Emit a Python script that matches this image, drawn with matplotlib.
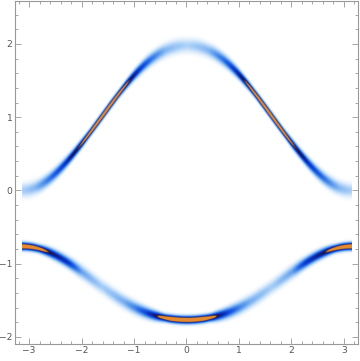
import numpy as np
import matplotlib
matplotlib.use("Agg")
import matplotlib.pyplot as plt
from matplotlib.colors import LinearSegmentedColormap

# ---- data (symmetric in k, so only k >= 0) ----
k_upper = [0.0, 0.41, 0.73, 1.05, 1.37, 1.685, 2.0, 2.32, 2.64, 3.1416]
e_upper = [1.98, 1.90, 1.77, 1.54, 1.24, 0.95, 0.65, 0.36, 0.15, 0.0]

k_lower = [0.0, 0.41, 0.73, 1.05, 1.37, 1.685, 2.0, 2.26, 2.51, 2.76, 3.1416]
e_lower = [-1.765, -1.745, -1.68, -1.58, -1.44, -1.28, -1.12, -0.99, -0.88, -0.805, -0.77]

# peak intensity along each band (colour-scale units, >1 saturates to orange)
kw_upper = [0.0, 0.4, 0.7, 0.92, 1.03, 1.12, 1.35, 1.57, 1.8, 2.03, 2.2, 2.32, 2.64, 2.9, 3.1416]
w_upper = [0.13, 0.22, 0.45, 0.68, 0.85, 0.97, 1.30, 1.45, 1.30, 0.97, 0.85, 0.68, 0.42, 0.22, 0.14]

kw_lower = [0.0, 0.3, 0.55, 0.6, 0.8, 1.0, 1.2, 1.62, 2.0, 2.26, 2.57, 2.67, 2.9, 3.1416]
w_lower = [1.50, 1.45, 0.97, 0.85, 0.58, 0.38, 0.25, 0.15, 0.28, 0.66, 0.85, 0.97, 1.30, 1.50]

x_ticks = [-3, -2, -1, 0, 1, 2, 3]
y_ticks = [-2, -1, 0, 1, 2]


def cos_fit(kp, vp, kk, nharm=5):
    kp = np.asarray(kp); vp = np.asarray(vp)
    A = np.stack([np.cos(n * kp) for n in range(nharm)], axis=1)
    c, *_ = np.linalg.lstsq(A, vp, rcond=None)
    B = np.stack([np.cos(n * kk) for n in range(nharm)], axis=1)
    return B @ c


kk = np.linspace(-np.pi, np.pi, 700)
ee = np.linspace(-2.0, 2.5, 1600)
K, E = np.meshgrid(kk, ee)

img = np.zeros_like(K)
for kb, eb, kwb, wb in [(k_upper, e_upper, kw_upper, w_upper),
                        (k_lower, e_lower, kw_lower, w_lower)]:
    band = cos_fit(kb, eb, kk)
    peak = np.interp(np.abs(kk), kwb, wb)
    sig = 0.030 + 0.026 * np.clip((1.2 - peak) / 1.05, 0, 1)
    img += peak[None, :] * np.exp(-0.5 * ((E - band[None, :]) / sig[None, :]) ** 2)

cmap = LinearSegmentedColormap.from_list("spec", [
    (0.0, "#ffffff"),
    (0.03, "#e8f2fd"),
    (0.13, "#aed2f8"),
    (0.30, "#5f9ded"),
    (0.48, "#1f62e6"),
    (0.66, "#0a34c8"),
    (0.82, "#121a70"),
    (0.91, "#1e1638"),
    (0.97, "#d9822b"),
    (1.0, "#e48a30"),
])

fig = plt.figure(figsize=(3.6, 3.61), dpi=100)
ax = fig.add_axes([15 / 360, 17.5 / 361, 343 / 360, 342.8 / 361])
ax.imshow(np.clip(img, 0, 1), extent=[-np.pi, np.pi, -2.0, 2.5], origin="lower",
          aspect="auto", cmap=cmap, vmin=0, vmax=1, interpolation="bilinear")
ax.set_xlim(-3.267, 3.267)
ax.set_ylim(-2.09, 2.59)

ax.set_xticks(x_ticks)
ax.set_yticks(y_ticks)
ax.set_xticks(np.arange(-3.2, 3.21, 0.2), minor=True)
ax.set_yticks(np.arange(-2.0, 2.51, 0.2), minor=True)
ax.tick_params(which="both", direction="in", top=True, right=True,
               color="#999999", labelcolor="#555555", labelsize=6.6, width=0.6)
ax.tick_params(which="major", length=4, pad=1.8)
ax.tick_params(which="minor", length=2)
for s in ax.spines.values():
    s.set_color("#999999")
    s.set_linewidth(0.8)

fig.savefig("out.png", dpi=100)
